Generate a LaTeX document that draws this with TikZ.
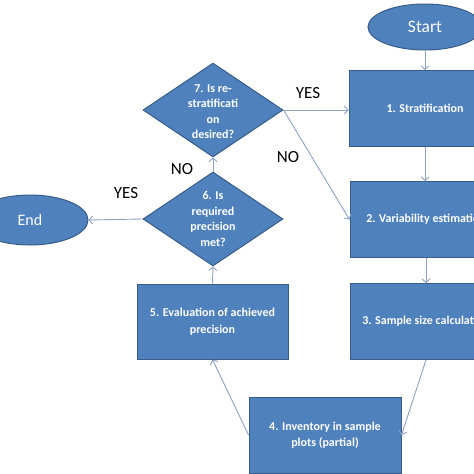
\documentclass[tikz,border=0pt]{standalone}
\usepackage{fontspec}
\setmainfont{Carlito}
\usetikzlibrary{shapes.geometric,arrows.meta}
\definecolor{boxfill}{HTML}{4F81BD}
\definecolor{boxline}{HTML}{385D8A}
\definecolor{arrowc}{HTML}{8EA2C6}
\begin{document}
\begin{tikzpicture}[x=1pt,y=-1pt,
  stepbox/.style={draw=boxline,fill=boxfill,line width=1pt,minimum width=152pt,minimum height=76pt,
    inner sep=0pt,text=white,align=center,font=\bfseries\fontsize{12}{16.5}\selectfont},
  diam/.style={diamond,draw=boxline,fill=boxfill,line width=1pt,minimum width=140pt,minimum height=94pt,inner sep=0pt},
  dtext/.style={text=white,align=center,inner sep=0pt,font=\bfseries\fontsize{12}{15.5}\selectfont},
  term/.style={ellipse,draw=boxline,fill=boxfill,line width=1pt,inner sep=0pt,text=white},
  conn/.style={draw=arrowc,line width=0.9pt,-{Straight Barb[length=3.5pt,width=8pt]}},
  lab/.style={text=black,font=\fontsize{17}{19}\selectfont,inner sep=0pt}]
\useasboundingbox (0,0) rectangle (474,474);
\clip (0,0) rectangle (474,474);
\fill[white] (0,0) rectangle (474,474);

\node[term,minimum width=114pt,minimum height=46pt,font=\fontsize{17.5}{20}\selectfont] (start) at (425,27) {Start};
\node[term,minimum width=116pt,minimum height=50pt,font=\fontsize{16}{19}\selectfont] (endn) at (30,220) {End};

\node[stepbox] (s1) at (425,108.5) {1. Stratification};
\node[stepbox] (s2) at (426,219.5) {2. Variability estimation};
\node[stepbox] (s3) at (426,321.5) {3. Sample size calculation};
\node[stepbox] (s4) at (325,435) {4. Inventory in sample\\plots (partial)};
\node[stepbox,minimum width=151pt,minimum height=75pt] (s5) at (212.5,321.5) {5. Evaluation of achieved\\precision};

\node[diam] (d6) at (213,219) {};
\node[dtext] (d6t) at (d6.center) {6. Is\\required\\precision\\met?};
\node[diam] (d7) at (213,110) {};
\node[dtext] (d7t) at ([yshift=-1.5pt]d7.center) {7. Is re-\\stratificati\\on\\desired?};

\draw[conn] (start.south) -- (s1.north);
\draw[conn] (s1.south -| start.south) -- (s2.north -| start.south);
\draw[conn] (s2.south) -- (s3.north);
\draw[conn] (s3.south) -- (s4.east);
\draw[conn] (s4.west) -- (s5.south);
\draw[conn] (s5.north) -- (d6.south);
\draw[conn] (d6.north) -- (d7.south);
\draw[conn] (d6.west) -- (endn.east);
\draw[conn] (d7.east) -- (d7.east -| s1.west);
\draw[conn] (d7.east) -- (s2.west);

\node[lab] (yes1) at (308,93) {YES};
\node[lab] (no1) at (288,157) {NO};
\node[lab] (no2) at (182,169) {NO};
\node[lab] (yes2) at (126,193) {YES};
\end{tikzpicture}
\end{document}
